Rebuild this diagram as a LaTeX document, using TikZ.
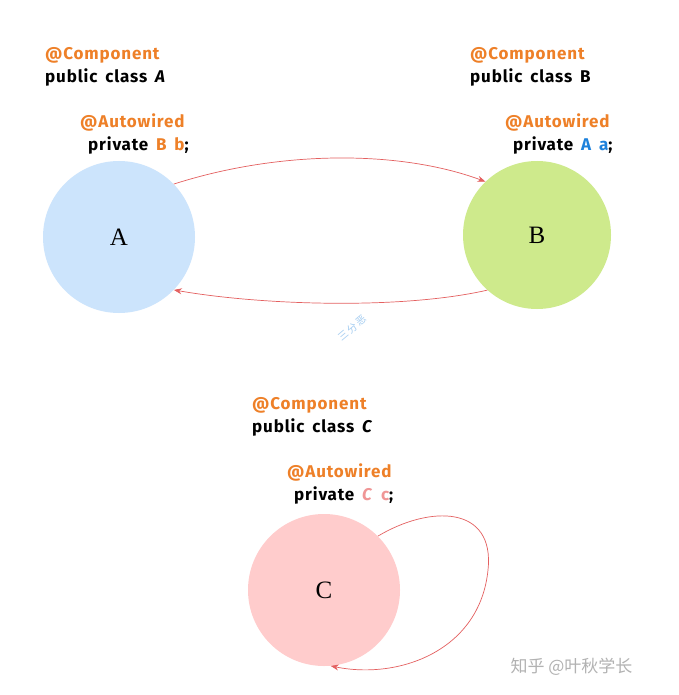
\documentclass[tikz,border=0pt]{standalone}
\usepackage{fontspec}
\setmainfont{Fira Sans}[LetterSpace=5,WordSpace=1.6]
\newfontfamily\cjk{Noto Sans CJK SC}
\newfontfamily\serifA{Liberation Serif}
\begin{document}
\begin{tikzpicture}[x=1pt,y=-1pt,
  anno/.style={anchor=west,inner sep=0pt,font=\bfseries\fontsize{17}{17}\selectfont,text=orange1},
  code/.style={anchor=west,inner sep=0pt,font=\bfseries\fontsize{17}{17}\selectfont},
  bean/.style={circle,minimum size=#1,inner sep=0pt,font=\serifA\fontsize{25}{25}\selectfont},
  link/.style={draw=red1,line width=0.7pt,-{Stealth[length=8pt,width=6pt]}}]
\usetikzlibrary{arrows.meta}
\definecolor{orange1}{RGB}{238,128,40}
\definecolor{red1}{RGB}{228,96,96}
\definecolor{fa}{RGB}{204,228,252}
\definecolor{fb}{RGB}{206,234,140}
\definecolor{fc}{RGB}{255,204,204}
\definecolor{blue1}{RGB}{30,130,220}
\definecolor{pink1}{RGB}{240,150,150}
\useasboundingbox (0,0) rectangle (678,695);
\fill[white] (0,0) rectangle (678,695);
\node[bean=152pt,fill=fa] (A) at (119,237) {A};
\node[bean=148pt,fill=fb] (B) at (537,235) {B};
\node[bean=152pt,fill=fc] (C) at (324,590) {C};
\node[anno] (ca) at (45,55) {@Component};
\node[code] (pa) at (45,77) {public class \textit{A}};
\node[anno] (aa) at (80,122) {@Autowired};
\node[code] (fa1) at (88,145) {private \textcolor{orange1}{B b};};
\node[anno] (cb) at (470,55) {@Component};
\node[code] (pb) at (470,77) {public class B};
\node[anno] (ab) at (505,122) {@Autowired};
\node[code] (fb1) at (513,145) {private \textcolor{blue1}{A a};};
\node[anno] (cc) at (252,405) {@Component};
\node[code] (pc) at (252,427) {public class \textit{C}};
\node[anno] (ac) at (287,472) {@Autowired};
\node[code] (fc1) at (294,495) {private \textcolor{pink1}{\textit{C} c};};
\draw[link] (A.44) .. controls (280,150) and (400,150) .. (B.134);
\draw[link] (B.228) .. controls (400,310) and (260,305) .. (A.316);
\draw[link] (C.45) .. controls (430,505) and (495,505) .. (488,570) .. controls (480,650) and (400,680) .. (C.275);
\node[rotate=40,text=blue1!40,font=\cjk\fontsize{10}{10}\selectfont,inner sep=0pt] (wm) at (352,328) {三\,分\,恶};
\node[anchor=west,text=gray!60,font=\cjk\fontsize{17}{17}\selectfont] (zh) at (507,667) {知乎 @叶秋学长};
\end{tikzpicture}
\end{document}
